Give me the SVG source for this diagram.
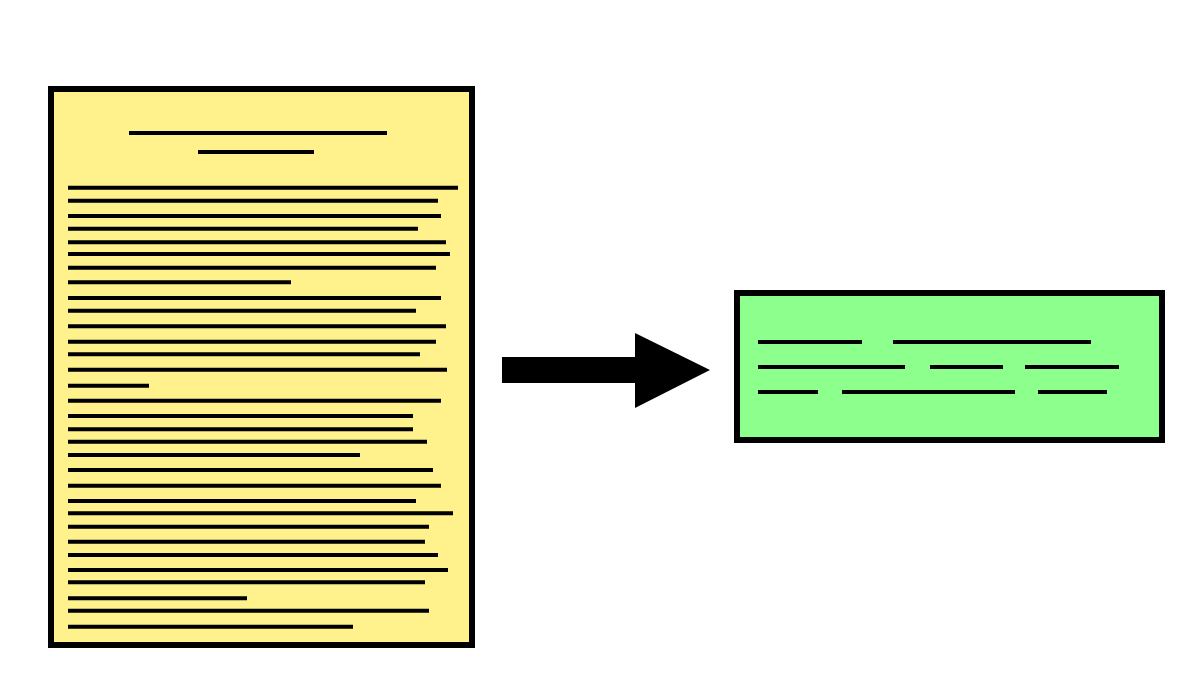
<svg xmlns="http://www.w3.org/2000/svg" width="1200" height="700" viewBox="0 0 1200 700">
<style>
.box{stroke:#000;stroke-width:6}
.ln{stroke:#000;stroke-width:4;fill:none}
</style>
<rect width="1200" height="700" fill="#fff"/>
<g id="document">
<rect class="box" x="51" y="89" width="421" height="556" fill="#fff28c"/>
<path class="ln" d="M129 133H387M198 152H314
M68 187.7H458M68 200.7H438M68 216H441M68 228.7H418M68 242.3H446M68 254H450M68 267.7H436M68 282.3H291M68 298H441M68 310.7H416M68 326.3H446M68 341.7H436M68 354.3H420M68 369.7H447
M68 385.7H149M68 400.7H441M68 416H413M68 429.3H413M68 441.7H427M68 455H360M68 470H433M68 485.7H441M68 501H416M68 513.3H453M68 526.7H429M68 541.7H425M68 555H438M68 570H448M68 582.3H425M68 598.3H247M68 610.7H429M68 626.7H353"/>
</g>
<g id="connectors">
<polygon points="502,357 635,357 635,333 710,370 635,408 635,383 502,383" fill="#000"/>
</g>
<g id="summary">
<rect class="box" x="737" y="293" width="425" height="147" fill="#8cff8c" stroke-width="5"/>
<path class="ln" d="M758 342H862M893 342H1091M758 367H905M930 367H1003M1025 367H1119M758 392H818M842 392H1015M1038 392H1107"/>
</g>
</svg>
